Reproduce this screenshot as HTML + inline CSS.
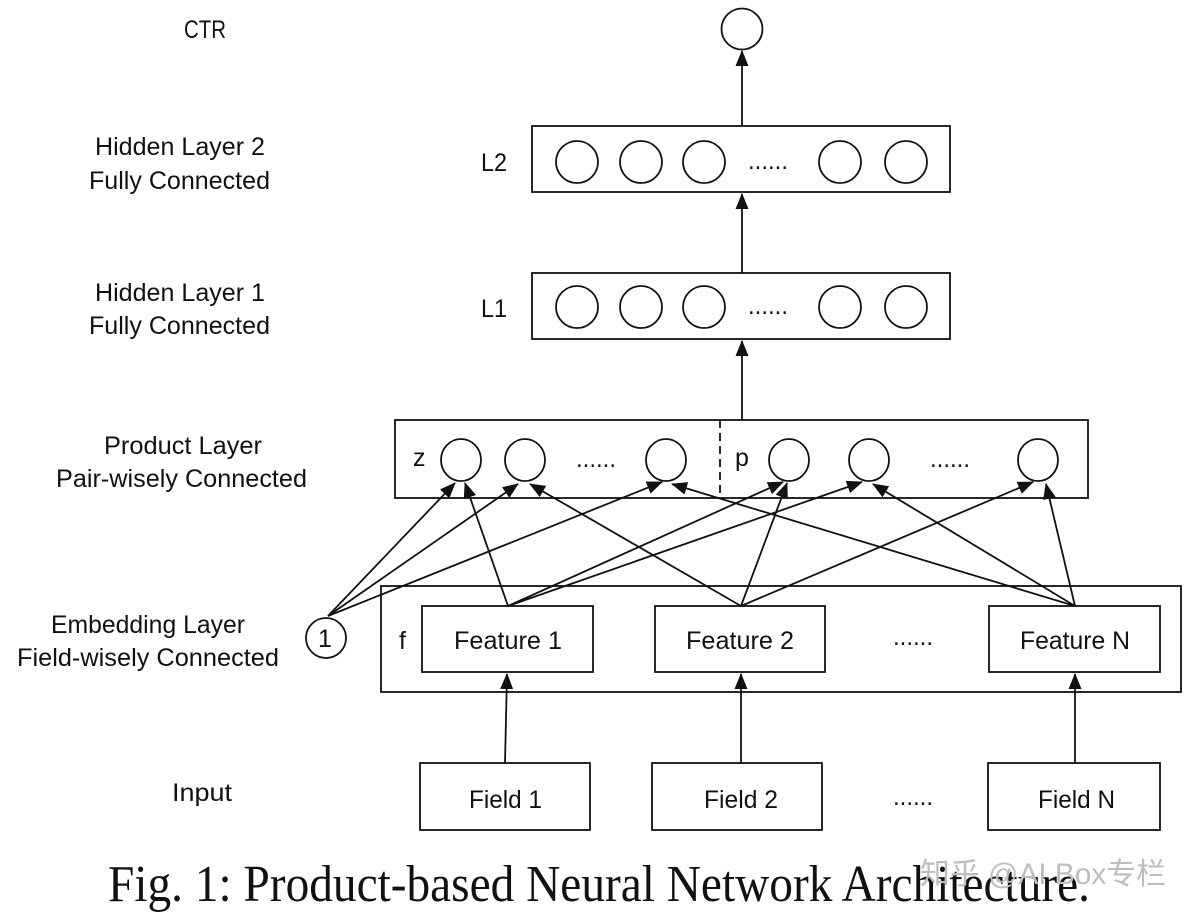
<!DOCTYPE html>
<html><head><meta charset="utf-8"><style>
html,body{margin:0;padding:0;background:#fff;width:1196px;height:922px;overflow:hidden}
svg text{font-family:"Liberation Sans",sans-serif;fill:#111}
</style></head><body>
<svg width="1196" height="922" viewBox="0 0 1196 922" xmlns="http://www.w3.org/2000/svg">
<defs><marker id="a" markerWidth="16" markerHeight="14" refX="15" refY="6.5" orient="auto" markerUnits="userSpaceOnUse"><path d="M0,0 L16,6.5 L0,13 Z" fill="#111"/></marker></defs>
<g stroke="#111" stroke-width="1.8" fill="none">
<circle cx="742" cy="29" r="20.5"/>
<line x1="742" y1="126" x2="742" y2="51" marker-end="url(#a)"/>
<rect x="532" y="126" width="418" height="66"/>
<circle cx="577" cy="162" r="21"/><circle cx="641" cy="162" r="21"/><circle cx="704" cy="162" r="21"/><circle cx="840" cy="162" r="21"/><circle cx="906" cy="162" r="21"/>
<line x1="742" y1="273" x2="742" y2="194" marker-end="url(#a)"/>
<rect x="532" y="273" width="418" height="66"/>
<circle cx="577" cy="307" r="21"/><circle cx="641" cy="307" r="21"/><circle cx="704" cy="307" r="21"/><circle cx="840" cy="307" r="21"/><circle cx="906" cy="307" r="21"/>
<line x1="742" y1="420" x2="742" y2="341" marker-end="url(#a)"/>
<rect x="395" y="420" width="693" height="78"/>
<line x1="720" y1="420" x2="720" y2="498" stroke-dasharray="8,5"/>
<ellipse cx="461" cy="460" rx="20" ry="21"/><ellipse cx="525" cy="460" rx="20" ry="21"/><ellipse cx="666" cy="460" rx="20" ry="21"/>
<ellipse cx="789" cy="460" rx="20" ry="21"/><ellipse cx="869" cy="460" rx="20" ry="21"/><ellipse cx="1038" cy="460" rx="20" ry="21"/>
<line x1="328" y1="616" x2="455" y2="483" marker-end="url(#a)"/>
<line x1="328" y1="616" x2="518" y2="484" marker-end="url(#a)"/>
<line x1="328" y1="616" x2="662" y2="482" marker-end="url(#a)"/>
<line x1="508" y1="606" x2="465" y2="483" marker-end="url(#a)"/>
<line x1="508" y1="606" x2="783" y2="482" marker-end="url(#a)"/>
<line x1="508" y1="606" x2="862" y2="482" marker-end="url(#a)"/>
<line x1="741" y1="606" x2="530" y2="484" marker-end="url(#a)"/>
<line x1="741" y1="606" x2="787" y2="483" marker-end="url(#a)"/>
<line x1="741" y1="606" x2="1033" y2="482" marker-end="url(#a)"/>
<line x1="1075" y1="606" x2="672" y2="484" marker-end="url(#a)"/>
<line x1="1075" y1="606" x2="873" y2="484" marker-end="url(#a)"/>
<line x1="1075" y1="606" x2="1046" y2="484" marker-end="url(#a)"/>
<circle cx="326" cy="638" r="20"/>
<rect x="381" y="586" width="800" height="106"/>
<rect x="422" y="606" width="171" height="66"/>
<rect x="655" y="606" width="170" height="66"/>
<rect x="989" y="606" width="171" height="66"/>
<rect x="420" y="763" width="170" height="67"/>
<rect x="652" y="763" width="170" height="67"/>
<rect x="988" y="763" width="172" height="67"/>
<line x1="505" y1="763" x2="507" y2="674" marker-end="url(#a)"/>
<line x1="741" y1="763" x2="741" y2="674" marker-end="url(#a)"/>
<line x1="1075" y1="763" x2="1075" y2="674" marker-end="url(#a)"/>
</g>
<g font-size="25" lengthAdjust="spacingAndGlyphs">
<text x="184" y="38" textLength="42" lengthAdjust="spacingAndGlyphs">CTR</text>
<text x="95" y="155" textLength="170" lengthAdjust="spacingAndGlyphs">Hidden Layer 2</text>
<text x="89" y="189" textLength="181" lengthAdjust="spacingAndGlyphs">Fully Connected</text>
<text x="95" y="301" textLength="170" lengthAdjust="spacingAndGlyphs">Hidden Layer 1</text>
<text x="89" y="334" textLength="181" lengthAdjust="spacingAndGlyphs">Fully Connected</text>
<text x="104" y="454" textLength="158" lengthAdjust="spacingAndGlyphs">Product Layer</text>
<text x="56" y="487" textLength="251" lengthAdjust="spacingAndGlyphs">Pair-wisely Connected</text>
<text x="51" y="633" textLength="194" lengthAdjust="spacingAndGlyphs">Embedding Layer</text>
<text x="17" y="666" textLength="262" lengthAdjust="spacingAndGlyphs">Field-wisely Connected</text>
<text x="172" y="801" textLength="60" lengthAdjust="spacingAndGlyphs">Input</text>
<text x="481" y="171" textLength="26" lengthAdjust="spacingAndGlyphs">L2</text>
<text x="481" y="317" textLength="26" lengthAdjust="spacingAndGlyphs">L1</text>
<text x="748" y="169" textLength="40" lengthAdjust="spacingAndGlyphs">......</text>
<text x="748" y="314" textLength="40" lengthAdjust="spacingAndGlyphs">......</text>
<text x="413" y="466">z</text>
<text x="735" y="466">p</text>
<text x="576" y="467" textLength="40" lengthAdjust="spacingAndGlyphs">......</text>
<text x="930" y="467" textLength="40" lengthAdjust="spacingAndGlyphs">......</text>
<text x="318" y="647">1</text>
<text x="399" y="649">f</text>
<text x="454" y="649" textLength="108" lengthAdjust="spacingAndGlyphs">Feature 1</text>
<text x="686" y="649" textLength="108" lengthAdjust="spacingAndGlyphs">Feature 2</text>
<text x="1020" y="649" textLength="110" lengthAdjust="spacingAndGlyphs">Feature N</text>
<text x="893" y="645" textLength="40" lengthAdjust="spacingAndGlyphs">......</text>
<text x="469" y="808" textLength="73" lengthAdjust="spacingAndGlyphs">Field 1</text>
<text x="704" y="808" textLength="74" lengthAdjust="spacingAndGlyphs">Field 2</text>
<text x="1038" y="808" textLength="77" lengthAdjust="spacingAndGlyphs">Field N</text>
<text x="893" y="805" textLength="40" lengthAdjust="spacingAndGlyphs">......</text>
</g>
<text x="108" y="901" font-size="52" textLength="982" lengthAdjust="spacingAndGlyphs" style="font-family:'Liberation Serif',serif">Fig. 1: Product-based Neural Network Architecture.</text>
<text x="920" y="884" font-size="30" textLength="246" lengthAdjust="spacingAndGlyphs" style="fill:#bdbdbd;font-family:'Liberation Sans','Noto Sans CJK SC',sans-serif">知乎 @AI Box专栏</text>
</svg>
</body></html>
